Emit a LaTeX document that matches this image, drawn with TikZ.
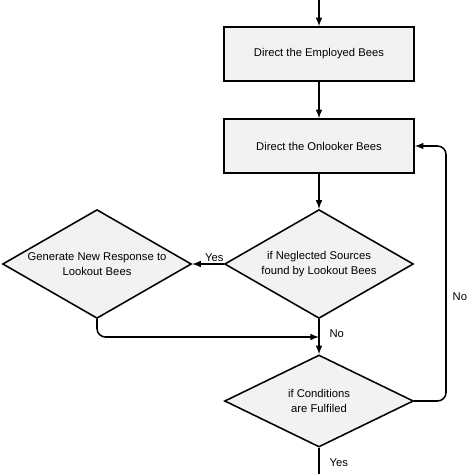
\documentclass[tikz,border=0pt]{standalone}
\usepackage{fontspec}
\setmainfont{Liberation Sans}
\usetikzlibrary{arrows,positioning,shapes.geometric}
\definecolor{boxfill}{gray}{0.95}

\begin{document}
\begin{tikzpicture}[
x=0.025cm, y=-0.025cm,
font=\fontsize{8}{10.5}\selectfont,
>=latex,
flow/.style={->,line width=1.1pt},
stepbox/.style={draw,line width=1.1pt,fill=boxfill,rectangle,minimum width=4.75cm,minimum height=1.35cm,inner sep=0pt},
decision/.style={draw,line width=1.1pt,fill=boxfill,diamond,inner sep=0pt,align=center,shape aspect=1.73,minimum width=4.72cm,minimum height=2.72cm},
lbl/.style={inner sep=1pt}
]
    % page size
    \useasboundingbox (0,0) rectangle (474,474);
    \clip (0,0) rectangle (474,474);

    % boxes
    \node[stepbox] (employed) at (319,54) {Direct the Employed Bees};
    \node[stepbox] (onlooker) at (319,146) {Direct the Onlooker Bees};

    % decisions
    \node[decision] (neglected) at (319,264) {if Neglected Sources\\found by Lookout Bees};
    \node[decision] (response) at (97,264) {Generate New Response to\\Lookout Bees};
    \node[decision, shape aspect=2.04, minimum height=2.3cm] (conditions) at (319,401) {if Conditions\\are Fulfiled};

    \coordinate (start) at (319,-5);
    \coordinate (join) at (319,337);
    \coordinate (finish) at (319,480);
    \coordinate (loop) at (446,401);

    % connectors
    \draw[flow] (start) -- (employed);
    \draw[flow] (employed) -- (onlooker);
    \draw[flow] (onlooker) -- (neglected);
    \draw[flow] (neglected) -- (response) node[lbl, pos=0.3, above] (yesleft) {Yes};
    \draw[flow, rounded corners=6pt] (response.south) |- (join);
    \draw[flow] (neglected) -- (conditions) node[lbl, pos=0.4, right, xshift=6pt] (nomid) {No};
    \draw[line width=1.1pt] (conditions) -- (finish) node[lbl, pos=0.45, right, xshift=6pt] (yesdown) {Yes};
    \draw[flow, rounded corners=6pt] (conditions.east) -- (loop) |- (onlooker.east);
    \node[lbl, anchor=west] (noright) at (451,297) {No};

\end{tikzpicture}
\end{document}
